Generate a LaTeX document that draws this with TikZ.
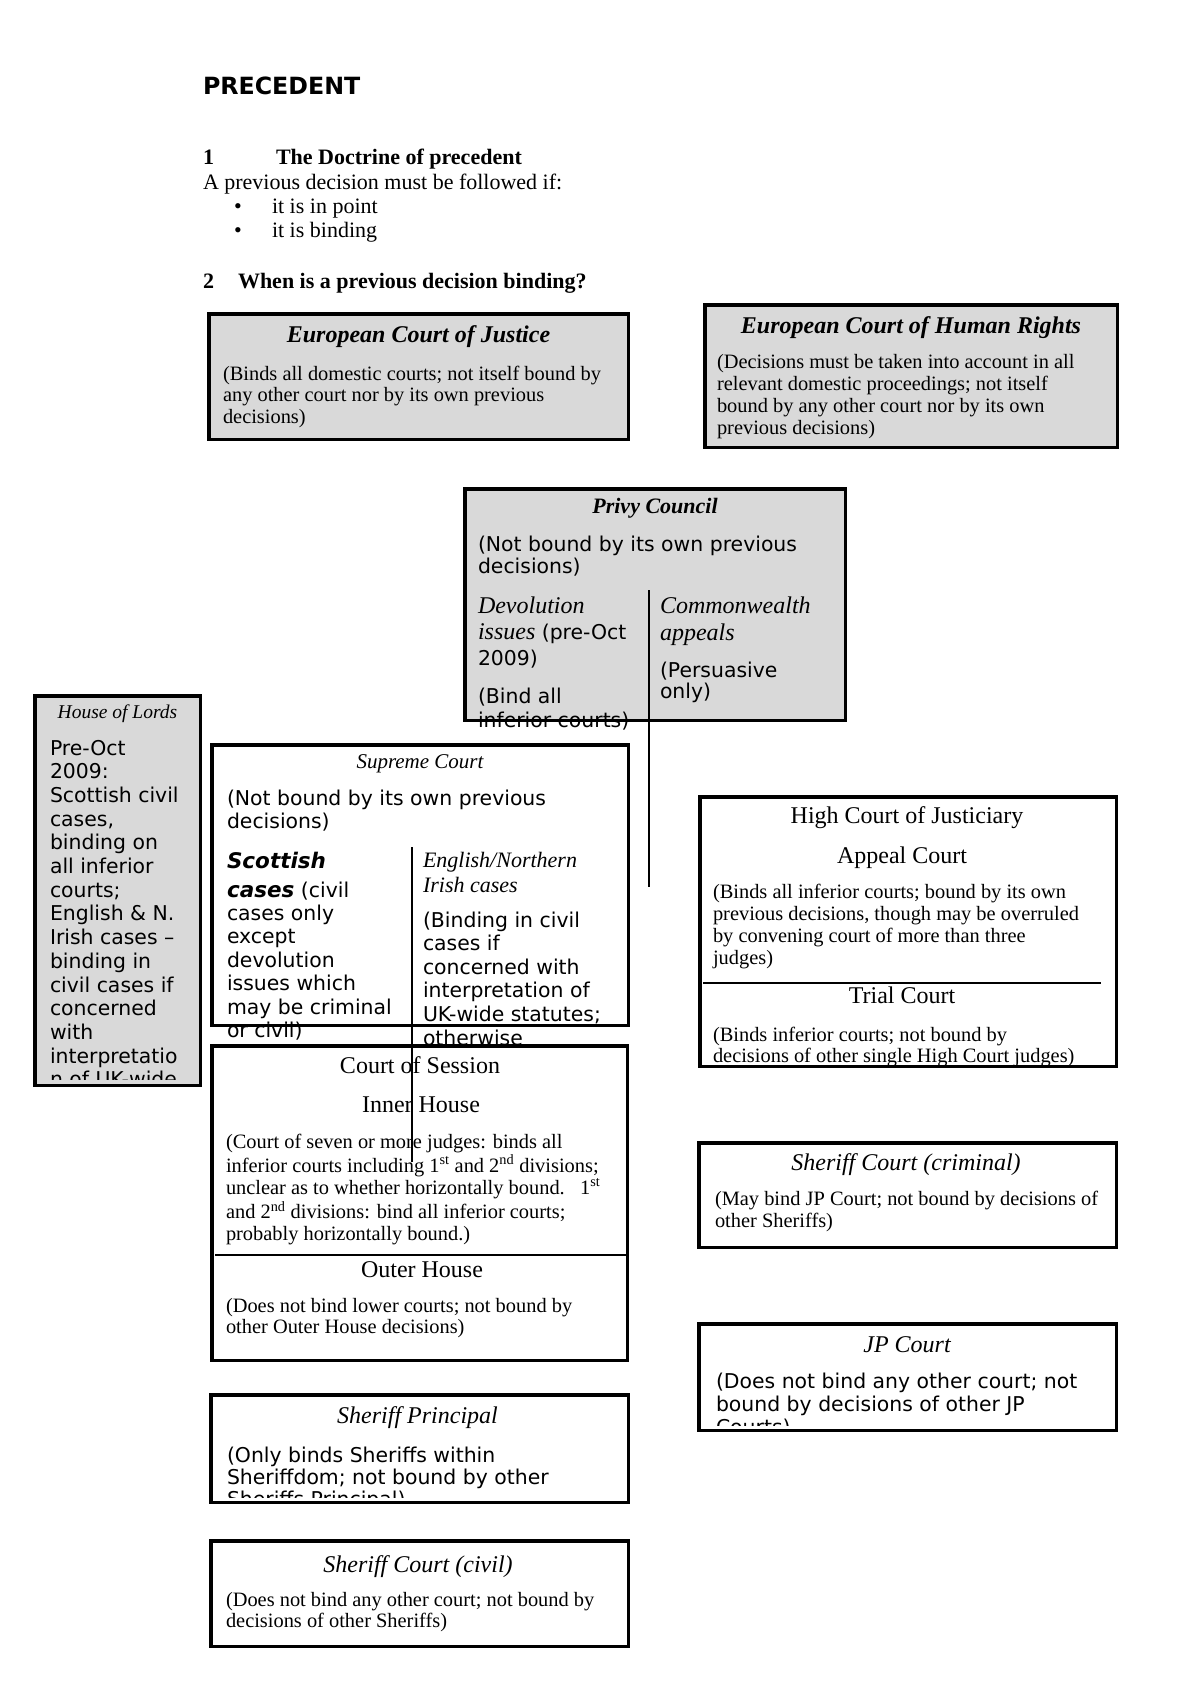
\documentclass[tikz,border=0pt]{standalone}
\usepackage{fontspec}
\setmainfont{Liberation Serif}
\setsansfont{DejaVu Sans}
\definecolor{boxgray}{HTML}{D9D9D9}
\newcommand\hdr{\fontsize{22}{24}\selectfont\rmfamily}
\newcommand\ttl{\fontsize{24}{26}\selectfont\rmfamily}
\newcommand\sansb[1]{\fontsize{20.4}{#1}\selectfont\sffamily}
\newcommand\serifb[1]{\fontsize{20.4}{#1}\selectfont\rmfamily}
\newcommand\lns[1]{\begin{tabular}[t]{@{}l@{}}#1\end{tabular}}
\newcommand\courtbox[6]{\node[#6, minimum width={#4-#2-3.5}, minimum height={#5-#3-3.5}] (#1) at ({#2+1.75},{#3+1.75}) {};}
\tikzset{
  gbox/.style={draw, line width=3.5pt, fill=boxgray, inner sep=0pt, outer sep=0pt, anchor=north west},
  wbox/.style={draw, line width=3.5pt, fill=white, inner sep=0pt, outer sep=0pt, anchor=north west},
  txt/.style={inner sep=0pt, outer sep=0pt, anchor=base west},
  ctxt/.style={inner sep=0pt, outer sep=0pt, anchor=base},
  divider/.style={line width=2.5pt},
}
\begin{document}
\begin{tikzpicture}[x=1pt,y=-1pt]
\useasboundingbox (0,0) rectangle (1200,1698);
\fill[white] (0,0) rectangle (1200,1698);

% ---------- header ----------
\node[txt] (title) at (203,94) {\fontsize{23.7}{26}\selectfont\sffamily\bfseries PRECEDENT};
\node[txt] (n1) at (203,164) {\hdr\bfseries 1};
\node[txt] (h1) at (276,164) {\hdr\bfseries The Doctrine of precedent};
\node[txt] (intro) at (203,189) {\hdr A previous decision must be followed if:};
\node[txt] (b1) at (234,213) {\hdr •};
\node[txt] (b1t) at (272,213) {\hdr it is in point};
\node[txt] (b2) at (234,237) {\hdr •};
\node[txt] (b2t) at (272,237) {\hdr it is binding};
\node[txt] (n2) at (203,288) {\hdr\bfseries 2};
\node[txt] (h2) at (238,288) {\hdr\bfseries When is a previous decision binding?};

% ---------- European Court of Justice ----------
\courtbox{ecj}{207}{312}{630}{441}{gbox}
\node[ctxt] (ecjt) at (418.5,342) {\ttl\bfseries\itshape European Court of Justice};
\node[txt] (ecjb) at (223,380) {\serifb{21.7}\lns{(Binds all domestic courts; not itself bound by\\any other court nor by its own previous\\decisions)}};

% ---------- European Court of Human Rights ----------
\courtbox{echr}{703}{303}{1119}{449}{gbox}
\node[ctxt] (echrt) at (911,333) {\ttl\bfseries\itshape European Court of Human Rights};
\node[txt] (echrb) at (717,368) {\serifb{22.3}\lns{(Decisions must be taken into account in all\\relevant domestic proceedings; not itself\\bound by any other court nor by its own\\previous decisions)}};

% ---------- Privy Council ----------
\courtbox{pc}{463}{487}{847}{722}{gbox}
\node[ctxt] (pct) at (655,513) {\fontsize{22}{24}\selectfont\rmfamily\bfseries\itshape Privy Council};
\node[txt] (pcn) at (478,551) {\sansb{22}\lns{(Not bound by its own previous\\decisions)}};
\node[txt] (pcdev) at (478,613) {\sansb{26}\lns{{\ttl\itshape Devolution}\\{\ttl\itshape issues} (pre-Oct\\2009)}};
\node[txt] (pcbind) at (478,703) {\sansb{24}\lns{(Bind all\\inferior courts)}};
\node[txt] (pccw) at (660,613) {\sansb{27}\lns{{\ttl\itshape Commonwealth}\\{\ttl\itshape appeals}}};
\node[txt] (pcpers) at (660,677) {\sansb{21.5}\lns{(Persuasive\\only)}};
\coordinate (pcdivtop) at (649,590);
\coordinate (pcdivbot) at (649,887);
\draw[divider] (pcdivtop) -- (pcdivbot);

% ---------- House of Lords ----------
\courtbox{hol}{33}{694}{202}{1087}{gbox}
\node[ctxt] (holt) at (117.5,718) {\fontsize{19.5}{22}\selectfont\rmfamily\itshape House of Lords};
\begin{scope}
\clip (36,697) rectangle (199,1079);
\node[txt] (holb) at (50,755) {\sansb{23.7}\lns{Pre-Oct\\2009:\\Scottish civil\\cases,\\binding on\\all inferior\\courts;\\English \& N.\\Irish cases –\\binding in\\civil cases if\\concerned\\with\\interpretatio\\n of UK-wide}};
\end{scope}
\draw[line width=3.5pt] (hol.north west) rectangle (hol.south east);

% ---------- Supreme Court ----------
\courtbox{sc}{210}{743}{630}{1027}{wbox}
\node[ctxt] (sct) at (420,768) {\fontsize{21}{24}\selectfont\rmfamily\itshape Supreme Court};
\node[txt] (scn) at (227,805) {\sansb{23}\lns{(Not bound by its own previous\\decisions)}};
\node[txt] (scscot) at (227,868) {\fontsize{21.5}{24}\selectfont\sffamily\bfseries\itshape Scottish};
\node[txt] (scscb) at (227,897) {\sansb{23.4}\lns{{\fontsize{21.5}{24}\selectfont\bfseries\itshape cases} (civil\\cases only\\except\\devolution\\issues which\\may be criminal\\or civil)}};
\node[txt] (scen) at (423,867) {\fontsize{22}{25}\selectfont\rmfamily\itshape\lns{English/Northern\\Irish cases}};
\node[txt] (scenb) at (423,927) {\sansb{23.6}\lns{(Binding in civil\\cases if\\concerned with\\interpretation of\\UK-wide statutes;\\otherwise}};

% ---------- Court of Session ----------
\courtbox{cos}{210}{1044}{629}{1362}{wbox}
\node[ctxt] (cost) at (420,1073) {\ttl Court of Session};
\node[ctxt] (cosih) at (421,1112) {\ttl Inner House};
\node[txt] (cosihb) at (226,1148) {\serifb{22.3}\lns{(Court of seven or more judges: binds all\\inferior courts including 1\textsuperscript{st} and 2\textsuperscript{nd} divisions;\\unclear as to whether horizontally bound.\ \ \ 1\textsuperscript{st}\\and 2\textsuperscript{nd} divisions: bind all inferior courts;\\probably horizontally bound.)}};
\coordinate (cosdivl) at (215,1255);
\coordinate (cosdivr) at (629,1255);
\draw[divider] (cosdivl) -- (cosdivr);
\node[ctxt] (cosoh) at (422,1277) {\ttl Outer House};
\node[txt] (cosohb) at (226,1312) {\serifb{21.5}\lns{(Does not bind lower courts; not bound by\\other Outer House decisions)}};
\coordinate (scdivtop) at (412,847);
\coordinate (scdivbot) at (412,1162);
\draw[divider] (scdivtop) -- (scdivbot);

% ---------- High Court of Justiciary ----------
\courtbox{hcj}{698}{795}{1118}{1068}{wbox}
\node[ctxt] (hcjt) at (907,823) {\ttl High Court of Justiciary};
\node[ctxt] (hcjac) at (902,863) {\ttl Appeal Court};
\node[txt] (hcjacb) at (713,898) {\serifb{22.3}\lns{(Binds all inferior courts; bound by its own\\previous decisions, though may be overruled\\by convening court of more than three\\judges)}};
\coordinate (hcjdivl) at (703,983);
\coordinate (hcjdivr) at (1101,983);
\draw[divider] (hcjdivl) -- (hcjdivr);
\node[ctxt] (hcjtc) at (902,1003) {\ttl Trial Court};
\node[txt] (hcjtcb) at (713,1041) {\serifb{21.5}\lns{(Binds inferior courts; not bound by\\decisions of other single High Court judges)}};

% ---------- Sheriff Court (criminal) ----------
\courtbox{scc}{697}{1141}{1118}{1249}{wbox}
\node[ctxt] (scct) at (906,1170) {\ttl\itshape Sheriff Court (criminal)};
\node[txt] (sccb) at (715,1205) {\serifb{22}\lns{(May bind JP Court; not bound by decisions of\\other Sheriffs)}};

% ---------- JP Court ----------
\courtbox{jp}{697}{1322}{1118}{1432}{wbox}
\node[ctxt] (jpt) at (907,1352) {\ttl\itshape JP Court};
\begin{scope}
\clip (700,1325) rectangle (1115,1425);
\node[txt] (jpb) at (716,1388) {\sansb{23}\lns{(Does not bind any other court; not\\bound by decisions of other JP\\Courts)}};
\end{scope}

% ---------- Sheriff Principal ----------
\courtbox{sp}{209}{1393}{630}{1504}{wbox}
\node[ctxt] (spt) at (417.5,1423) {\ttl\itshape Sheriff Principal};
\begin{scope}
\clip (212,1396) rectangle (627,1497);
\node[txt] (spb) at (227,1462) {\sansb{22}\lns{(Only binds Sheriffs within\\Sheriffdom; not bound by other\\Sheriffs Principal)}};
\end{scope}

% ---------- Sheriff Court (civil) ----------
\courtbox{scv}{209}{1539}{630}{1648}{wbox}
\node[ctxt] (scvt) at (418,1572) {\ttl\itshape Sheriff Court (civil)};
\node[txt] (scvb) at (226,1606) {\serifb{21}\lns{(Does not bind any other court; not bound by\\decisions of other Sheriffs)}};
\end{tikzpicture}
\end{document}
